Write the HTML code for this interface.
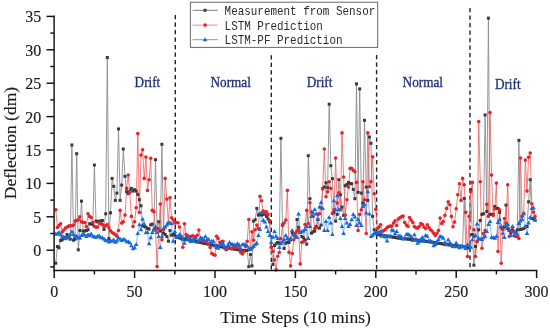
<!DOCTYPE html>
<html lang="en"><head><meta charset="utf-8"><title>Deflection chart</title>
<style>html,body{margin:0;padding:0;background:#fff}svg{display:block}.s{font-family:"Liberation Serif",serif;fill:#1a1a1a;stroke:#1a1a1a;stroke-width:0.15px}.m{font-family:"Liberation Mono",monospace;fill:#2b2b2b}</style></head><body>
<svg width="550" height="328" viewBox="0 0 550 328">
<rect width="550" height="328" fill="#fff"/>
<line x1="175.3" y1="15" x2="175.3" y2="270.5" stroke="#222" stroke-width="1.4" stroke-dasharray="4.3 3.2"/>
<line x1="271.3" y1="55.2" x2="271.3" y2="270.5" stroke="#222" stroke-width="1.4" stroke-dasharray="4.3 3.2"/>
<line x1="376.6" y1="55" x2="376.6" y2="270.5" stroke="#222" stroke-width="1.4" stroke-dasharray="4.3 3.2"/>
<line x1="470" y1="8" x2="470" y2="270.5" stroke="#222" stroke-width="1.4" stroke-dasharray="4.3 3.2"/>
<polyline fill="none" stroke="#8c8c8c" stroke-width="0.9" stroke-linejoin="round" points="55.8,263.2 57.4,246.5 59,247.8 60.6,240.5 62.2,239.8 63.8,238.5 65.5,237.8 67.1,234.5 68.7,236.5 70.3,239.2 71.9,145 73.5,240.2 75.1,239.2 76.7,153.7 78.3,249.8 79.9,230.5 81.5,201.1 83.1,231.1 84.8,231.1 86.4,230.5 88,229.8 89.6,223.8 91.2,223.8 92.8,224.5 94.4,165 96,221.1 97.6,221.8 99.2,221.1 100.8,221.1 102.4,220.5 104,229.5 105.7,213.8 107.3,57.5 108.9,238.5 110.5,212.8 112.1,178.4 113.7,186.4 115.3,200.4 116.9,193.1 118.5,128.9 120.1,200.4 121.7,185.1 123.3,149 125,176.4 126.6,191.7 128.2,193.7 129.8,191.1 131.4,188.4 133,191.1 134.6,189.7 136.2,191.1 137.8,194.4 139.4,199.8 141,205.8 142.6,225.8 144.2,226.5 145.9,227.1 147.5,228.5 149.1,229.1 150.7,224.8 152.3,224.1 153.9,229.8 155.5,159.7 157.1,228.5 158.7,221.8 160.3,231.1 161.9,144.3 163.5,233.2 165.2,234.5 166.8,236.5 168.4,241.2 170,230.5 171.6,235.2 173.2,234.5 174.8,235.2 176.4,236.8 178,237.4 179.6,237.9 181.2,238.5 182.8,239 184.4,239.3 186.1,239.5 187.7,239.7 189.3,239.9 190.9,240.2 192.5,240.6 194.1,240.9 195.7,241.3 197.3,241.7 198.9,242.1 200.5,242.5 202.1,242.8 203.7,243.2 205.4,243.5 207,243.8 208.6,244.2 210.2,244.5 211.8,244.8 213.4,245.2 215,245.5 216.6,245.8 218.2,246.2 219.8,246.5 221.4,246.8 223,247.1 224.6,247.4 226.3,247.7 227.9,247.9 229.5,248.2 231.1,248.5 232.7,248.8 234.3,249 235.9,249.3 237.5,249.6 239.1,249.8 240.7,250.1 242.3,250.3 243.9,250.5 245.6,250.5 247.2,250.5 248.8,266.6 250.4,254.5 252,265.9 253.6,221.1 255.2,219.8 256.8,208.4 258.4,215.1 260,213.8 261.6,215.1 263.2,214.4 264.8,213.8 266.5,216.4 268.1,219.1 269.7,221.8 271.3,247.2 272.9,264.5 274.5,245.5 276.1,243.8 277.7,242.5 279.3,243.2 280.9,138.3 282.5,224.8 284.1,248.5 285.8,243.2 287.4,242.5 289,242.5 290.6,239.8 292.2,232.5 293.8,235.2 295.4,236.5 297,219.5 298.6,227.5 300.2,232.5 301.8,236.5 303.4,237.8 305,239.8 306.7,244.2 308.3,155.7 309.9,198.7 311.5,233.2 313.1,231.8 314.7,231.1 316.3,226.5 317.9,219.5 319.5,228.1 321.1,225.1 322.7,188.7 324.3,187.1 326,182.7 327.6,187.7 329.2,104.2 330.8,165.7 332.4,178.7 334,212.4 335.6,221.1 337.2,214.4 338.8,179.7 340.4,194.7 342,207.1 343.6,215.4 345.2,185.7 346.9,184.4 348.5,182.4 350.1,183.7 351.7,183.7 353.3,189.4 354.9,198.7 356.5,83.9 358.1,192.4 359.7,88.9 361.3,193.1 362.9,203.1 364.5,120.3 366.2,187.1 367.8,200.4 369.4,137 371,143.3 372.6,216.4 374.2,229.8 375.8,233.8 377.4,234.5 379,234.8 380.6,235 382.2,235.3 383.8,235.6 385.4,235.9 387.1,236.2 388.7,236.4 390.3,236.7 391.9,237 393.5,237.3 395.1,237.5 396.7,237.8 398.3,238 399.9,238.2 401.5,238.4 403.1,238.6 404.7,238.7 406.4,238.9 408,239.1 409.6,239.3 411.2,239.5 412.8,239.7 414.4,239.9 416,240 417.6,240.2 419.2,240.4 420.8,240.6 422.4,240.8 424,241 425.6,241.2 427.3,241.5 428.9,241.7 430.5,242 432.1,242.2 433.7,242.5 435.3,242.7 436.9,243 438.5,243.2 440.1,243.5 441.7,243.7 443.3,244 444.9,244.2 446.6,244.4 448.2,244.7 449.8,244.9 451.4,245.1 453,245.4 454.6,245.6 456.2,245.8 457.8,246 459.4,246.2 461,246.3 462.6,246.5 464.2,198.4 465.8,247 467.5,247.3 469.1,247.8 470.7,189.7 472.3,234.5 473.9,265.2 475.5,246.5 477.1,241.5 478.7,229.8 480.3,220.5 481.9,214.4 483.5,213.8 485.1,114.9 486.8,211.4 488.4,18.1 490,214.4 491.6,214.4 493.2,214.4 494.8,206.4 496.4,208.4 498,208.4 499.6,212.4 501.2,227.5 502.8,228.5 504.4,227.1 506,205.1 507.7,228.8 509.3,230.5 510.9,232.5 512.5,230.5 514.1,231.8 515.7,232.5 517.3,229.8 518.9,140.3 520.5,229.5 522.1,229.1 523.7,228.5 525.3,227.1 527,226.5 528.6,201.8 530.2,179.7 531.8,218.5 533.4,218.8 535,220.1"/>
<polyline fill="none" stroke="#f05c5c" stroke-width="0.8" stroke-linejoin="round" points="55.8,209.8 57.4,227.5 59,225.5 60.6,223.8 62.2,232.1 63.8,230.1 65.5,228.1 67.1,227.1 68.7,226.1 70.3,225.8 71.9,225.8 73.5,225.1 75.1,221.1 76.7,220.5 78.3,219.8 79.9,216.8 81.5,221.8 83.1,222.5 84.8,222.5 86.4,226.5 88,213.8 89.6,216.4 91.2,217.5 92.8,222.5 94.4,226.5 96,227.1 97.6,227.1 99.2,223.1 100.8,223.8 102.4,224.5 104,226.5 105.7,225.8 107.3,224.5 108.9,227.8 110.5,230.8 112.1,232.5 113.7,233.5 115.3,234.5 116.9,236.2 118.5,230.5 120.1,210.4 121.7,223.1 123.3,221.8 125,215.1 126.6,188.4 128.2,175 129.8,192.4 131.4,216.4 133,226.5 134.6,221.8 136.2,207.8 137.8,133.6 139.4,212.4 141,155 142.6,149.7 144.2,178.4 145.9,157 147.5,190.4 149.1,179.7 150.7,158.3 152.3,210.4 153.9,211.8 155.5,229.8 157.1,266.6 158.7,229.1 160.3,204.1 161.9,239.8 163.5,229.8 165.2,178.4 166.8,199.1 168.4,223.1 170,197.7 171.6,217.8 173.2,220.1 174.8,223.1 176.4,222.5 178,222.8 179.6,227.1 181.2,236.5 182.8,247.2 184.4,223.8 186.1,234.5 187.7,235.8 189.3,236.5 190.9,236.5 192.5,235.8 194.1,236.5 195.7,237.2 197.3,235.2 198.9,230.1 200.5,239.2 202.1,240.5 203.7,241.2 205.4,241.2 207,242.5 208.6,244.5 210.2,247.5 211.8,253.5 213.4,254.5 215,255.2 216.6,236.2 218.2,238.5 219.8,242.5 221.4,241.8 223,241.2 224.6,248.5 226.3,249.8 227.9,248.5 229.5,247.8 231.1,248.8 232.7,247.8 234.3,247.5 235.9,247.8 237.5,244.5 239.1,247.8 240.7,252.2 242.3,253.9 243.9,251.9 245.6,246.5 247.2,241.2 248.8,219.5 250.4,249.8 252,231.8 253.6,240.2 255.2,229.8 256.8,225.1 258.4,228.5 260,196.4 261.6,200.8 263.2,211.1 264.8,212.4 266.5,211.8 268.1,214.4 269.7,220.5 271.3,247.5 272.9,251.2 274.5,259.9 276.1,269.9 277.7,256.2 279.3,252.5 280.9,238.5 282.5,225.5 284.1,223.1 285.8,220.1 287.4,190.4 289,252.2 290.6,265.9 292.2,253.5 293.8,239.8 295.4,233.2 297,231.1 298.6,229.5 300.2,263.9 301.8,242.2 303.4,241.8 305,224.5 306.7,210.4 308.3,223.5 309.9,202.8 311.5,212.1 313.1,216.4 314.7,228.5 316.3,227.8 317.9,214.4 319.5,213.8 321.1,207.8 322.7,188.7 324.3,149 326,196.7 327.6,191.7 329.2,181.7 330.8,188.4 332.4,213.4 334,209.8 335.6,158 337.2,203.1 338.8,192.7 340.4,209.8 342,132.9 343.6,177 345.2,215.1 346.9,199.8 348.5,187.1 350.1,168.4 351.7,168.4 353.3,170.4 354.9,171.7 356.5,182.4 358.1,230.5 359.7,214.4 361.3,209.8 362.9,181.7 364.5,199.8 366.2,233.5 367.8,132.9 369.4,186.7 371,181.7 372.6,156.7 374.2,193.7 375.8,209.4 377.4,228.5 379,227.1 380.6,224.8 382.2,231.5 383.8,230.5 385.4,229.5 387.1,227.5 388.7,226.5 390.3,226.1 391.9,226.1 393.5,223.1 395.1,220.8 396.7,225.5 398.3,219.1 399.9,217.8 401.5,216.8 403.1,216.1 404.7,222.5 406.4,225.1 408,226.5 409.6,217.5 411.2,220.1 412.8,222.5 414.4,226.5 416,227.8 417.6,228.1 419.2,226.5 420.8,223.5 422.4,224.5 424,227.1 425.6,228.5 427.3,224.8 428.9,227.5 430.5,229.8 432.1,231.1 433.7,233.2 435.3,235.5 436.9,233.2 438.5,230.5 440.1,218.1 441.7,223.5 443.3,221.5 444.9,215.4 446.6,208.4 448.2,201.8 449.8,204.8 451.4,216.4 453,226.8 454.6,222.1 456.2,208.8 457.8,194.7 459.4,183.7 461,200.4 462.6,178.4 464.2,184.7 465.8,212.4 467.5,256.5 469.1,216.4 470.7,191.7 472.3,182.4 473.9,229.8 475.5,256.5 477.1,241.5 478.7,121.6 480.3,181.7 481.9,248.2 483.5,233.5 485.1,230.5 486.8,204.4 488.4,216.4 490,112.6 491.6,175 493.2,215.4 494.8,208.8 496.4,183.1 498,251.5 499.6,209.8 501.2,263.2 502.8,229.8 504.4,218.5 506,223.1 507.7,184.7 509.3,236.5 510.9,231.1 512.5,227.5 514.1,235.8 515.7,236.5 517.3,236.5 518.9,238.5 520.5,158 522.1,216.4 523.7,213.4 525.3,160 527,191.1 528.6,157.3 530.2,153 531.8,203.8 533.4,212.1 535,216.4"/>
<polyline fill="none" stroke="#74a9ee" stroke-width="0.75" stroke-linejoin="round" points="55.8,233.9 57.4,233.9 59,232.5 60.6,234.7 62.2,236.7 63.8,237.1 65.5,238.8 67.1,238.1 68.7,237.5 70.3,234.6 71.9,231.7 73.5,234.4 75.1,236.7 76.7,236.1 78.3,238 79.9,238.1 81.5,235.5 83.1,234.2 84.8,235 86.4,236.4 88,234.8 89.6,235.5 91.2,234.1 92.8,236.3 94.4,236.9 96,237.3 97.6,236.2 99.2,236.1 100.8,237.8 102.4,237.7 104,238.9 105.7,240.4 107.3,240.7 108.9,242.1 110.5,241.1 112.1,241.1 113.7,240.1 115.3,242.3 116.9,240.9 118.5,238 120.1,239.3 121.7,240.6 123.3,239.2 125,239.7 126.6,241.7 128.2,241.7 129.8,242.8 131.4,245.8 133,248.8 134.6,247.8 136.2,244.5 137.8,233.5 139.4,224.8 141,229.8 142.6,219.3 144.2,224.1 145.9,232.7 147.5,232.5 149.1,243.8 150.7,237.8 152.3,232.5 153.9,230.1 155.5,226.8 157.1,232.5 158.7,236.5 160.3,247.5 161.9,236.5 163.5,228.5 165.2,227.1 166.8,225.1 168.4,222.8 170,223.1 171.6,223.8 173.2,241.2 174.8,231.5 176.4,237.4 178,236.3 179.6,234.4 181.2,236.2 182.8,239.3 184.4,243.3 186.1,236.8 187.7,239.7 189.3,238 190.9,241.4 192.5,240.2 194.1,239.3 195.7,238.2 197.3,242.3 198.9,240.7 200.5,237.9 202.1,238.2 203.7,239.8 205.4,236.6 207,239.4 208.6,239.5 210.2,243.1 211.8,241.2 213.4,241.2 215,246 216.6,247.6 218.2,248.3 219.8,245 221.4,242.9 223,243.5 224.6,246.9 226.3,248.6 227.9,244.9 229.5,242.4 231.1,244.2 232.7,244.6 234.3,245 235.9,245.4 237.5,243.7 239.1,245.1 240.7,249.1 242.3,244.8 243.9,244.6 245.6,244.9 247.2,245.9 248.8,248.2 250.4,249.2 252,247.8 253.6,246.5 255.2,244.5 256.8,243.2 258.4,235.5 260,229.5 261.6,212.8 263.2,220.5 264.8,222.1 266.5,227.1 268.1,231.5 269.7,235.5 271.3,242.5 272.9,237.2 274.5,231.5 276.1,236.5 277.7,238.5 279.3,247.5 280.9,243.5 282.5,241.8 284.1,239.8 285.8,235.5 287.4,238.5 289,239.8 290.6,238.5 292.2,230.5 293.8,234.5 295.4,236.5 297,237.5 298.6,214.1 300.2,232.5 301.8,231.8 303.4,231.1 305,229.5 306.7,226.5 308.3,238.5 309.9,226.5 311.5,216.4 313.1,213.1 314.7,209.4 316.3,214.1 317.9,219.1 319.5,207.1 321.1,202.4 322.7,208.4 324.3,230.5 326,221.5 327.6,230.5 329.2,217.5 330.8,223.1 332.4,234.5 334,200.8 335.6,209.8 337.2,195.7 338.8,209.8 340.4,218.5 342,226.5 343.6,233.5 345.2,218.5 346.9,223.1 348.5,226.5 350.1,224.5 351.7,219.8 353.3,214.4 354.9,217.1 356.5,225.5 358.1,219.5 359.7,223.1 361.3,225.5 362.9,206.4 364.5,204.8 366.2,213.1 367.8,191.7 369.4,214.1 371,236.5 372.6,235.2 374.2,233.5 375.8,232.5 377.4,233.3 379,232.1 380.6,231.7 382.2,236.3 383.8,235.8 385.4,236.9 387.1,240.9 388.7,236.3 390.3,236.2 391.9,229.9 393.5,230.8 395.1,233.9 396.7,231.6 398.3,236.6 399.9,235.9 401.5,236.9 403.1,239.1 404.7,238.3 406.4,234.4 408,234.2 409.6,235.3 411.2,236.8 412.8,240.4 414.4,234.8 416,239.5 417.6,243.3 419.2,241.7 420.8,239.6 422.4,237.5 424,240.9 425.6,235.4 427.3,236.3 428.9,240.8 430.5,240.9 432.1,242.1 433.7,245.7 435.3,244.6 436.9,241.7 438.5,239.6 440.1,236.5 441.7,236.9 443.3,238.2 444.9,242.4 446.6,244.8 448.2,239.8 449.8,242.7 451.4,244.8 453,246.5 454.6,246.8 456.2,243.1 457.8,246.5 459.4,247.7 461,246.1 462.6,246.9 464.2,246.8 465.8,248.5 467.5,245 469.1,245.8 470.7,247.2 472.3,239.8 473.9,236.5 475.5,235.5 477.1,224.1 478.7,238.5 480.3,239.2 481.9,239.5 483.5,237.8 485.1,236.2 486.8,231.5 488.4,224.5 490,221.5 491.6,237.5 493.2,237.8 494.8,238.2 496.4,236.5 498,222.5 499.6,219.5 501.2,226.5 502.8,233.2 504.4,237.5 506,225.5 507.7,224.5 509.3,229.8 510.9,235.5 512.5,226.5 514.1,231.5 515.7,233.2 517.3,234.5 518.9,223.5 520.5,221.1 522.1,219.5 523.7,213.8 525.3,226.5 527,233.5 528.6,223.1 530.2,217.5 531.8,208.4 533.4,207.8 535,220.1"/>
<g fill="#3a3a3a"><rect x="54.3" y="261.7" width="3" height="3"/><rect x="55.9" y="245" width="3" height="3"/><rect x="57.5" y="246.3" width="3" height="3"/><rect x="59.1" y="239" width="3" height="3"/><rect x="60.7" y="238.3" width="3" height="3"/><rect x="62.3" y="237" width="3" height="3"/><rect x="64" y="236.3" width="3" height="3"/><rect x="65.6" y="233" width="3" height="3"/><rect x="67.2" y="235" width="3" height="3"/><rect x="68.8" y="237.7" width="3" height="3"/><rect x="70.4" y="143.5" width="3" height="3"/><rect x="72" y="238.7" width="3" height="3"/><rect x="73.6" y="237.7" width="3" height="3"/><rect x="75.2" y="152.2" width="3" height="3"/><rect x="76.8" y="248.3" width="3" height="3"/><rect x="78.4" y="229" width="3" height="3"/><rect x="80" y="199.6" width="3" height="3"/><rect x="81.6" y="229.6" width="3" height="3"/><rect x="83.3" y="229.6" width="3" height="3"/><rect x="84.9" y="229" width="3" height="3"/><rect x="86.5" y="228.3" width="3" height="3"/><rect x="88.1" y="222.3" width="3" height="3"/><rect x="89.7" y="222.3" width="3" height="3"/><rect x="91.3" y="223" width="3" height="3"/><rect x="92.9" y="163.5" width="3" height="3"/><rect x="94.5" y="219.6" width="3" height="3"/><rect x="96.1" y="220.3" width="3" height="3"/><rect x="97.7" y="219.6" width="3" height="3"/><rect x="99.3" y="219.6" width="3" height="3"/><rect x="100.9" y="219" width="3" height="3"/><rect x="102.5" y="228" width="3" height="3"/><rect x="104.2" y="212.3" width="3" height="3"/><rect x="105.8" y="56" width="3" height="3"/><rect x="107.4" y="237" width="3" height="3"/><rect x="109" y="211.3" width="3" height="3"/><rect x="110.6" y="176.9" width="3" height="3"/><rect x="112.2" y="184.9" width="3" height="3"/><rect x="113.8" y="198.9" width="3" height="3"/><rect x="115.4" y="191.6" width="3" height="3"/><rect x="117" y="127.4" width="3" height="3"/><rect x="118.6" y="198.9" width="3" height="3"/><rect x="120.2" y="183.6" width="3" height="3"/><rect x="121.8" y="147.5" width="3" height="3"/><rect x="123.5" y="174.9" width="3" height="3"/><rect x="125.1" y="190.2" width="3" height="3"/><rect x="126.7" y="192.2" width="3" height="3"/><rect x="128.3" y="189.6" width="3" height="3"/><rect x="129.9" y="186.9" width="3" height="3"/><rect x="131.5" y="189.6" width="3" height="3"/><rect x="133.1" y="188.2" width="3" height="3"/><rect x="134.7" y="189.6" width="3" height="3"/><rect x="136.3" y="192.9" width="3" height="3"/><rect x="137.9" y="198.2" width="3" height="3"/><rect x="139.5" y="204.3" width="3" height="3"/><rect x="141.1" y="224.3" width="3" height="3"/><rect x="142.7" y="225" width="3" height="3"/><rect x="144.4" y="225.6" width="3" height="3"/><rect x="146" y="227" width="3" height="3"/><rect x="147.6" y="227.6" width="3" height="3"/><rect x="149.2" y="223.3" width="3" height="3"/><rect x="150.8" y="222.6" width="3" height="3"/><rect x="152.4" y="228.3" width="3" height="3"/><rect x="154" y="158.2" width="3" height="3"/><rect x="155.6" y="227" width="3" height="3"/><rect x="157.2" y="220.3" width="3" height="3"/><rect x="158.8" y="229.6" width="3" height="3"/><rect x="160.4" y="142.8" width="3" height="3"/><rect x="162" y="231.7" width="3" height="3"/><rect x="163.7" y="233" width="3" height="3"/><rect x="165.3" y="235" width="3" height="3"/><rect x="166.9" y="239.7" width="3" height="3"/><rect x="168.5" y="229" width="3" height="3"/><rect x="170.1" y="233.7" width="3" height="3"/><rect x="171.7" y="233" width="3" height="3"/><rect x="173.3" y="233.7" width="3" height="3"/><rect x="174.9" y="235.3" width="3" height="3"/><rect x="176.5" y="235.9" width="3" height="3"/><rect x="178.1" y="236.4" width="3" height="3"/><rect x="179.7" y="237" width="3" height="3"/><rect x="181.3" y="237.5" width="3" height="3"/><rect x="182.9" y="237.8" width="3" height="3"/><rect x="184.6" y="238" width="3" height="3"/><rect x="186.2" y="238.2" width="3" height="3"/><rect x="187.8" y="238.4" width="3" height="3"/><rect x="189.4" y="238.7" width="3" height="3"/><rect x="191" y="239.1" width="3" height="3"/><rect x="192.6" y="239.4" width="3" height="3"/><rect x="194.2" y="239.8" width="3" height="3"/><rect x="195.8" y="240.2" width="3" height="3"/><rect x="197.4" y="240.6" width="3" height="3"/><rect x="199" y="241" width="3" height="3"/><rect x="200.6" y="241.3" width="3" height="3"/><rect x="202.2" y="241.7" width="3" height="3"/><rect x="203.9" y="242" width="3" height="3"/><rect x="205.5" y="242.3" width="3" height="3"/><rect x="207.1" y="242.7" width="3" height="3"/><rect x="208.7" y="243" width="3" height="3"/><rect x="210.3" y="243.3" width="3" height="3"/><rect x="211.9" y="243.7" width="3" height="3"/><rect x="213.5" y="244" width="3" height="3"/><rect x="215.1" y="244.3" width="3" height="3"/><rect x="216.7" y="244.7" width="3" height="3"/><rect x="218.3" y="245" width="3" height="3"/><rect x="219.9" y="245.3" width="3" height="3"/><rect x="221.5" y="245.6" width="3" height="3"/><rect x="223.1" y="245.9" width="3" height="3"/><rect x="224.8" y="246.2" width="3" height="3"/><rect x="226.4" y="246.4" width="3" height="3"/><rect x="228" y="246.7" width="3" height="3"/><rect x="229.6" y="247" width="3" height="3"/><rect x="231.2" y="247.3" width="3" height="3"/><rect x="232.8" y="247.5" width="3" height="3"/><rect x="234.4" y="247.8" width="3" height="3"/><rect x="236" y="248.1" width="3" height="3"/><rect x="237.6" y="248.3" width="3" height="3"/><rect x="239.2" y="248.6" width="3" height="3"/><rect x="240.8" y="248.8" width="3" height="3"/><rect x="242.4" y="249" width="3" height="3"/><rect x="244.1" y="249" width="3" height="3"/><rect x="245.7" y="249" width="3" height="3"/><rect x="247.3" y="265.1" width="3" height="3"/><rect x="248.9" y="253" width="3" height="3"/><rect x="250.5" y="264.4" width="3" height="3"/><rect x="252.1" y="219.6" width="3" height="3"/><rect x="253.7" y="218.3" width="3" height="3"/><rect x="255.3" y="206.9" width="3" height="3"/><rect x="256.9" y="213.6" width="3" height="3"/><rect x="258.5" y="212.3" width="3" height="3"/><rect x="260.1" y="213.6" width="3" height="3"/><rect x="261.7" y="212.9" width="3" height="3"/><rect x="263.3" y="212.3" width="3" height="3"/><rect x="265" y="214.9" width="3" height="3"/><rect x="266.6" y="217.6" width="3" height="3"/><rect x="268.2" y="220.3" width="3" height="3"/><rect x="269.8" y="245.7" width="3" height="3"/><rect x="271.4" y="263" width="3" height="3"/><rect x="273" y="244" width="3" height="3"/><rect x="274.6" y="242.3" width="3" height="3"/><rect x="276.2" y="241" width="3" height="3"/><rect x="277.8" y="241.7" width="3" height="3"/><rect x="279.4" y="136.8" width="3" height="3"/><rect x="281" y="223.3" width="3" height="3"/><rect x="282.6" y="247" width="3" height="3"/><rect x="284.3" y="241.7" width="3" height="3"/><rect x="285.9" y="241" width="3" height="3"/><rect x="287.5" y="241" width="3" height="3"/><rect x="289.1" y="238.3" width="3" height="3"/><rect x="290.7" y="231" width="3" height="3"/><rect x="292.3" y="233.7" width="3" height="3"/><rect x="293.9" y="235" width="3" height="3"/><rect x="295.5" y="218" width="3" height="3"/><rect x="297.1" y="226" width="3" height="3"/><rect x="298.7" y="231" width="3" height="3"/><rect x="300.3" y="235" width="3" height="3"/><rect x="301.9" y="236.3" width="3" height="3"/><rect x="303.5" y="238.3" width="3" height="3"/><rect x="305.2" y="242.7" width="3" height="3"/><rect x="306.8" y="154.2" width="3" height="3"/><rect x="308.4" y="197.2" width="3" height="3"/><rect x="310" y="231.7" width="3" height="3"/><rect x="311.6" y="230.3" width="3" height="3"/><rect x="313.2" y="229.6" width="3" height="3"/><rect x="314.8" y="225" width="3" height="3"/><rect x="316.4" y="218" width="3" height="3"/><rect x="318" y="226.6" width="3" height="3"/><rect x="319.6" y="223.6" width="3" height="3"/><rect x="321.2" y="187.2" width="3" height="3"/><rect x="322.8" y="185.6" width="3" height="3"/><rect x="324.5" y="181.2" width="3" height="3"/><rect x="326.1" y="186.2" width="3" height="3"/><rect x="327.7" y="102.7" width="3" height="3"/><rect x="329.3" y="164.2" width="3" height="3"/><rect x="330.9" y="177.2" width="3" height="3"/><rect x="332.5" y="210.9" width="3" height="3"/><rect x="334.1" y="219.6" width="3" height="3"/><rect x="335.7" y="212.9" width="3" height="3"/><rect x="337.3" y="178.2" width="3" height="3"/><rect x="338.9" y="193.2" width="3" height="3"/><rect x="340.5" y="205.6" width="3" height="3"/><rect x="342.1" y="213.9" width="3" height="3"/><rect x="343.7" y="184.2" width="3" height="3"/><rect x="345.4" y="182.9" width="3" height="3"/><rect x="347" y="180.9" width="3" height="3"/><rect x="348.6" y="182.2" width="3" height="3"/><rect x="350.2" y="182.2" width="3" height="3"/><rect x="351.8" y="187.9" width="3" height="3"/><rect x="353.4" y="197.2" width="3" height="3"/><rect x="355" y="82.4" width="3" height="3"/><rect x="356.6" y="190.9" width="3" height="3"/><rect x="358.2" y="87.4" width="3" height="3"/><rect x="359.8" y="191.6" width="3" height="3"/><rect x="361.4" y="201.6" width="3" height="3"/><rect x="363" y="118.8" width="3" height="3"/><rect x="364.7" y="185.6" width="3" height="3"/><rect x="366.3" y="198.9" width="3" height="3"/><rect x="367.9" y="135.5" width="3" height="3"/><rect x="369.5" y="141.8" width="3" height="3"/><rect x="371.1" y="214.9" width="3" height="3"/><rect x="372.7" y="228.3" width="3" height="3"/><rect x="374.3" y="232.3" width="3" height="3"/><rect x="375.9" y="233" width="3" height="3"/><rect x="377.5" y="233.3" width="3" height="3"/><rect x="379.1" y="233.5" width="3" height="3"/><rect x="380.7" y="233.8" width="3" height="3"/><rect x="382.3" y="234.1" width="3" height="3"/><rect x="383.9" y="234.4" width="3" height="3"/><rect x="385.6" y="234.7" width="3" height="3"/><rect x="387.2" y="234.9" width="3" height="3"/><rect x="388.8" y="235.2" width="3" height="3"/><rect x="390.4" y="235.5" width="3" height="3"/><rect x="392" y="235.8" width="3" height="3"/><rect x="393.6" y="236" width="3" height="3"/><rect x="395.2" y="236.3" width="3" height="3"/><rect x="396.8" y="236.5" width="3" height="3"/><rect x="398.4" y="236.7" width="3" height="3"/><rect x="400" y="236.9" width="3" height="3"/><rect x="401.6" y="237.1" width="3" height="3"/><rect x="403.2" y="237.2" width="3" height="3"/><rect x="404.9" y="237.4" width="3" height="3"/><rect x="406.5" y="237.6" width="3" height="3"/><rect x="408.1" y="237.8" width="3" height="3"/><rect x="409.7" y="238" width="3" height="3"/><rect x="411.3" y="238.2" width="3" height="3"/><rect x="412.9" y="238.4" width="3" height="3"/><rect x="414.5" y="238.5" width="3" height="3"/><rect x="416.1" y="238.7" width="3" height="3"/><rect x="417.7" y="238.9" width="3" height="3"/><rect x="419.3" y="239.1" width="3" height="3"/><rect x="420.9" y="239.3" width="3" height="3"/><rect x="422.5" y="239.5" width="3" height="3"/><rect x="424.1" y="239.7" width="3" height="3"/><rect x="425.8" y="240" width="3" height="3"/><rect x="427.4" y="240.2" width="3" height="3"/><rect x="429" y="240.5" width="3" height="3"/><rect x="430.6" y="240.7" width="3" height="3"/><rect x="432.2" y="241" width="3" height="3"/><rect x="433.8" y="241.2" width="3" height="3"/><rect x="435.4" y="241.5" width="3" height="3"/><rect x="437" y="241.7" width="3" height="3"/><rect x="438.6" y="242" width="3" height="3"/><rect x="440.2" y="242.2" width="3" height="3"/><rect x="441.8" y="242.5" width="3" height="3"/><rect x="443.4" y="242.7" width="3" height="3"/><rect x="445.1" y="242.9" width="3" height="3"/><rect x="446.7" y="243.2" width="3" height="3"/><rect x="448.3" y="243.4" width="3" height="3"/><rect x="449.9" y="243.6" width="3" height="3"/><rect x="451.5" y="243.9" width="3" height="3"/><rect x="453.1" y="244.1" width="3" height="3"/><rect x="454.7" y="244.3" width="3" height="3"/><rect x="456.3" y="244.5" width="3" height="3"/><rect x="457.9" y="244.7" width="3" height="3"/><rect x="459.5" y="244.8" width="3" height="3"/><rect x="461.1" y="245" width="3" height="3"/><rect x="462.7" y="196.9" width="3" height="3"/><rect x="464.3" y="245.5" width="3" height="3"/><rect x="466" y="245.8" width="3" height="3"/><rect x="467.6" y="246.3" width="3" height="3"/><rect x="469.2" y="188.2" width="3" height="3"/><rect x="470.8" y="233" width="3" height="3"/><rect x="472.4" y="263.7" width="3" height="3"/><rect x="474" y="245" width="3" height="3"/><rect x="475.6" y="240" width="3" height="3"/><rect x="477.2" y="228.3" width="3" height="3"/><rect x="478.8" y="219" width="3" height="3"/><rect x="480.4" y="212.9" width="3" height="3"/><rect x="482" y="212.3" width="3" height="3"/><rect x="483.6" y="113.4" width="3" height="3"/><rect x="485.3" y="209.9" width="3" height="3"/><rect x="486.9" y="16.6" width="3" height="3"/><rect x="488.5" y="212.9" width="3" height="3"/><rect x="490.1" y="212.9" width="3" height="3"/><rect x="491.7" y="212.9" width="3" height="3"/><rect x="493.3" y="204.9" width="3" height="3"/><rect x="494.9" y="206.9" width="3" height="3"/><rect x="496.5" y="206.9" width="3" height="3"/><rect x="498.1" y="210.9" width="3" height="3"/><rect x="499.7" y="226" width="3" height="3"/><rect x="501.3" y="227" width="3" height="3"/><rect x="502.9" y="225.6" width="3" height="3"/><rect x="504.5" y="203.6" width="3" height="3"/><rect x="506.2" y="227.3" width="3" height="3"/><rect x="507.8" y="229" width="3" height="3"/><rect x="509.4" y="231" width="3" height="3"/><rect x="511" y="229" width="3" height="3"/><rect x="512.6" y="230.3" width="3" height="3"/><rect x="514.2" y="231" width="3" height="3"/><rect x="515.8" y="228.3" width="3" height="3"/><rect x="517.4" y="138.8" width="3" height="3"/><rect x="519" y="228" width="3" height="3"/><rect x="520.6" y="227.6" width="3" height="3"/><rect x="522.2" y="227" width="3" height="3"/><rect x="523.8" y="225.6" width="3" height="3"/><rect x="525.5" y="225" width="3" height="3"/><rect x="527.1" y="200.3" width="3" height="3"/><rect x="528.7" y="178.2" width="3" height="3"/><rect x="530.3" y="217" width="3" height="3"/><rect x="531.9" y="217.3" width="3" height="3"/><rect x="533.5" y="218.6" width="3" height="3"/></g>
<g fill="#ee1f27"><circle cx="55.8" cy="209.8" r="1.8"/><circle cx="57.4" cy="227.5" r="1.8"/><circle cx="59" cy="225.5" r="1.8"/><circle cx="60.6" cy="223.8" r="1.8"/><circle cx="62.2" cy="232.1" r="1.8"/><circle cx="63.8" cy="230.1" r="1.8"/><circle cx="65.5" cy="228.1" r="1.8"/><circle cx="67.1" cy="227.1" r="1.8"/><circle cx="68.7" cy="226.1" r="1.8"/><circle cx="70.3" cy="225.8" r="1.8"/><circle cx="71.9" cy="225.8" r="1.8"/><circle cx="73.5" cy="225.1" r="1.8"/><circle cx="75.1" cy="221.1" r="1.8"/><circle cx="76.7" cy="220.5" r="1.8"/><circle cx="78.3" cy="219.8" r="1.8"/><circle cx="79.9" cy="216.8" r="1.8"/><circle cx="81.5" cy="221.8" r="1.8"/><circle cx="83.1" cy="222.5" r="1.8"/><circle cx="84.8" cy="222.5" r="1.8"/><circle cx="86.4" cy="226.5" r="1.8"/><circle cx="88" cy="213.8" r="1.8"/><circle cx="89.6" cy="216.4" r="1.8"/><circle cx="91.2" cy="217.5" r="1.8"/><circle cx="92.8" cy="222.5" r="1.8"/><circle cx="94.4" cy="226.5" r="1.8"/><circle cx="96" cy="227.1" r="1.8"/><circle cx="97.6" cy="227.1" r="1.8"/><circle cx="99.2" cy="223.1" r="1.8"/><circle cx="100.8" cy="223.8" r="1.8"/><circle cx="102.4" cy="224.5" r="1.8"/><circle cx="104" cy="226.5" r="1.8"/><circle cx="105.7" cy="225.8" r="1.8"/><circle cx="107.3" cy="224.5" r="1.8"/><circle cx="108.9" cy="227.8" r="1.8"/><circle cx="110.5" cy="230.8" r="1.8"/><circle cx="112.1" cy="232.5" r="1.8"/><circle cx="113.7" cy="233.5" r="1.8"/><circle cx="115.3" cy="234.5" r="1.8"/><circle cx="116.9" cy="236.2" r="1.8"/><circle cx="118.5" cy="230.5" r="1.8"/><circle cx="120.1" cy="210.4" r="1.8"/><circle cx="121.7" cy="223.1" r="1.8"/><circle cx="123.3" cy="221.8" r="1.8"/><circle cx="125" cy="215.1" r="1.8"/><circle cx="126.6" cy="188.4" r="1.8"/><circle cx="128.2" cy="175" r="1.8"/><circle cx="129.8" cy="192.4" r="1.8"/><circle cx="131.4" cy="216.4" r="1.8"/><circle cx="133" cy="226.5" r="1.8"/><circle cx="134.6" cy="221.8" r="1.8"/><circle cx="136.2" cy="207.8" r="1.8"/><circle cx="137.8" cy="133.6" r="1.8"/><circle cx="139.4" cy="212.4" r="1.8"/><circle cx="141" cy="155" r="1.8"/><circle cx="142.6" cy="149.7" r="1.8"/><circle cx="144.2" cy="178.4" r="1.8"/><circle cx="145.9" cy="157" r="1.8"/><circle cx="147.5" cy="190.4" r="1.8"/><circle cx="149.1" cy="179.7" r="1.8"/><circle cx="150.7" cy="158.3" r="1.8"/><circle cx="152.3" cy="210.4" r="1.8"/><circle cx="153.9" cy="211.8" r="1.8"/><circle cx="155.5" cy="229.8" r="1.8"/><circle cx="157.1" cy="266.6" r="1.8"/><circle cx="158.7" cy="229.1" r="1.8"/><circle cx="160.3" cy="204.1" r="1.8"/><circle cx="161.9" cy="239.8" r="1.8"/><circle cx="163.5" cy="229.8" r="1.8"/><circle cx="165.2" cy="178.4" r="1.8"/><circle cx="166.8" cy="199.1" r="1.8"/><circle cx="168.4" cy="223.1" r="1.8"/><circle cx="170" cy="197.7" r="1.8"/><circle cx="171.6" cy="217.8" r="1.8"/><circle cx="173.2" cy="220.1" r="1.8"/><circle cx="174.8" cy="223.1" r="1.8"/><circle cx="176.4" cy="222.5" r="1.8"/><circle cx="178" cy="222.8" r="1.8"/><circle cx="179.6" cy="227.1" r="1.8"/><circle cx="181.2" cy="236.5" r="1.8"/><circle cx="182.8" cy="247.2" r="1.8"/><circle cx="184.4" cy="223.8" r="1.8"/><circle cx="186.1" cy="234.5" r="1.8"/><circle cx="187.7" cy="235.8" r="1.8"/><circle cx="189.3" cy="236.5" r="1.8"/><circle cx="190.9" cy="236.5" r="1.8"/><circle cx="192.5" cy="235.8" r="1.8"/><circle cx="194.1" cy="236.5" r="1.8"/><circle cx="195.7" cy="237.2" r="1.8"/><circle cx="197.3" cy="235.2" r="1.8"/><circle cx="198.9" cy="230.1" r="1.8"/><circle cx="200.5" cy="239.2" r="1.8"/><circle cx="202.1" cy="240.5" r="1.8"/><circle cx="203.7" cy="241.2" r="1.8"/><circle cx="205.4" cy="241.2" r="1.8"/><circle cx="207" cy="242.5" r="1.8"/><circle cx="208.6" cy="244.5" r="1.8"/><circle cx="210.2" cy="247.5" r="1.8"/><circle cx="211.8" cy="253.5" r="1.8"/><circle cx="213.4" cy="254.5" r="1.8"/><circle cx="215" cy="255.2" r="1.8"/><circle cx="216.6" cy="236.2" r="1.8"/><circle cx="218.2" cy="238.5" r="1.8"/><circle cx="219.8" cy="242.5" r="1.8"/><circle cx="221.4" cy="241.8" r="1.8"/><circle cx="223" cy="241.2" r="1.8"/><circle cx="224.6" cy="248.5" r="1.8"/><circle cx="226.3" cy="249.8" r="1.8"/><circle cx="227.9" cy="248.5" r="1.8"/><circle cx="229.5" cy="247.8" r="1.8"/><circle cx="231.1" cy="248.8" r="1.8"/><circle cx="232.7" cy="247.8" r="1.8"/><circle cx="234.3" cy="247.5" r="1.8"/><circle cx="235.9" cy="247.8" r="1.8"/><circle cx="237.5" cy="244.5" r="1.8"/><circle cx="239.1" cy="247.8" r="1.8"/><circle cx="240.7" cy="252.2" r="1.8"/><circle cx="242.3" cy="253.9" r="1.8"/><circle cx="243.9" cy="251.9" r="1.8"/><circle cx="245.6" cy="246.5" r="1.8"/><circle cx="247.2" cy="241.2" r="1.8"/><circle cx="248.8" cy="219.5" r="1.8"/><circle cx="250.4" cy="249.8" r="1.8"/><circle cx="252" cy="231.8" r="1.8"/><circle cx="253.6" cy="240.2" r="1.8"/><circle cx="255.2" cy="229.8" r="1.8"/><circle cx="256.8" cy="225.1" r="1.8"/><circle cx="258.4" cy="228.5" r="1.8"/><circle cx="260" cy="196.4" r="1.8"/><circle cx="261.6" cy="200.8" r="1.8"/><circle cx="263.2" cy="211.1" r="1.8"/><circle cx="264.8" cy="212.4" r="1.8"/><circle cx="266.5" cy="211.8" r="1.8"/><circle cx="268.1" cy="214.4" r="1.8"/><circle cx="269.7" cy="220.5" r="1.8"/><circle cx="271.3" cy="247.5" r="1.8"/><circle cx="272.9" cy="251.2" r="1.8"/><circle cx="274.5" cy="259.9" r="1.8"/><circle cx="276.1" cy="269.9" r="1.8"/><circle cx="277.7" cy="256.2" r="1.8"/><circle cx="279.3" cy="252.5" r="1.8"/><circle cx="280.9" cy="238.5" r="1.8"/><circle cx="282.5" cy="225.5" r="1.8"/><circle cx="284.1" cy="223.1" r="1.8"/><circle cx="285.8" cy="220.1" r="1.8"/><circle cx="287.4" cy="190.4" r="1.8"/><circle cx="289" cy="252.2" r="1.8"/><circle cx="290.6" cy="265.9" r="1.8"/><circle cx="292.2" cy="253.5" r="1.8"/><circle cx="293.8" cy="239.8" r="1.8"/><circle cx="295.4" cy="233.2" r="1.8"/><circle cx="297" cy="231.1" r="1.8"/><circle cx="298.6" cy="229.5" r="1.8"/><circle cx="300.2" cy="263.9" r="1.8"/><circle cx="301.8" cy="242.2" r="1.8"/><circle cx="303.4" cy="241.8" r="1.8"/><circle cx="305" cy="224.5" r="1.8"/><circle cx="306.7" cy="210.4" r="1.8"/><circle cx="308.3" cy="223.5" r="1.8"/><circle cx="309.9" cy="202.8" r="1.8"/><circle cx="311.5" cy="212.1" r="1.8"/><circle cx="313.1" cy="216.4" r="1.8"/><circle cx="314.7" cy="228.5" r="1.8"/><circle cx="316.3" cy="227.8" r="1.8"/><circle cx="317.9" cy="214.4" r="1.8"/><circle cx="319.5" cy="213.8" r="1.8"/><circle cx="321.1" cy="207.8" r="1.8"/><circle cx="322.7" cy="188.7" r="1.8"/><circle cx="324.3" cy="149" r="1.8"/><circle cx="326" cy="196.7" r="1.8"/><circle cx="327.6" cy="191.7" r="1.8"/><circle cx="329.2" cy="181.7" r="1.8"/><circle cx="330.8" cy="188.4" r="1.8"/><circle cx="332.4" cy="213.4" r="1.8"/><circle cx="334" cy="209.8" r="1.8"/><circle cx="335.6" cy="158" r="1.8"/><circle cx="337.2" cy="203.1" r="1.8"/><circle cx="338.8" cy="192.7" r="1.8"/><circle cx="340.4" cy="209.8" r="1.8"/><circle cx="342" cy="132.9" r="1.8"/><circle cx="343.6" cy="177" r="1.8"/><circle cx="345.2" cy="215.1" r="1.8"/><circle cx="346.9" cy="199.8" r="1.8"/><circle cx="348.5" cy="187.1" r="1.8"/><circle cx="350.1" cy="168.4" r="1.8"/><circle cx="351.7" cy="168.4" r="1.8"/><circle cx="353.3" cy="170.4" r="1.8"/><circle cx="354.9" cy="171.7" r="1.8"/><circle cx="356.5" cy="182.4" r="1.8"/><circle cx="358.1" cy="230.5" r="1.8"/><circle cx="359.7" cy="214.4" r="1.8"/><circle cx="361.3" cy="209.8" r="1.8"/><circle cx="362.9" cy="181.7" r="1.8"/><circle cx="364.5" cy="199.8" r="1.8"/><circle cx="366.2" cy="233.5" r="1.8"/><circle cx="367.8" cy="132.9" r="1.8"/><circle cx="369.4" cy="186.7" r="1.8"/><circle cx="371" cy="181.7" r="1.8"/><circle cx="372.6" cy="156.7" r="1.8"/><circle cx="374.2" cy="193.7" r="1.8"/><circle cx="375.8" cy="209.4" r="1.8"/><circle cx="377.4" cy="228.5" r="1.8"/><circle cx="379" cy="227.1" r="1.8"/><circle cx="380.6" cy="224.8" r="1.8"/><circle cx="382.2" cy="231.5" r="1.8"/><circle cx="383.8" cy="230.5" r="1.8"/><circle cx="385.4" cy="229.5" r="1.8"/><circle cx="387.1" cy="227.5" r="1.8"/><circle cx="388.7" cy="226.5" r="1.8"/><circle cx="390.3" cy="226.1" r="1.8"/><circle cx="391.9" cy="226.1" r="1.8"/><circle cx="393.5" cy="223.1" r="1.8"/><circle cx="395.1" cy="220.8" r="1.8"/><circle cx="396.7" cy="225.5" r="1.8"/><circle cx="398.3" cy="219.1" r="1.8"/><circle cx="399.9" cy="217.8" r="1.8"/><circle cx="401.5" cy="216.8" r="1.8"/><circle cx="403.1" cy="216.1" r="1.8"/><circle cx="404.7" cy="222.5" r="1.8"/><circle cx="406.4" cy="225.1" r="1.8"/><circle cx="408" cy="226.5" r="1.8"/><circle cx="409.6" cy="217.5" r="1.8"/><circle cx="411.2" cy="220.1" r="1.8"/><circle cx="412.8" cy="222.5" r="1.8"/><circle cx="414.4" cy="226.5" r="1.8"/><circle cx="416" cy="227.8" r="1.8"/><circle cx="417.6" cy="228.1" r="1.8"/><circle cx="419.2" cy="226.5" r="1.8"/><circle cx="420.8" cy="223.5" r="1.8"/><circle cx="422.4" cy="224.5" r="1.8"/><circle cx="424" cy="227.1" r="1.8"/><circle cx="425.6" cy="228.5" r="1.8"/><circle cx="427.3" cy="224.8" r="1.8"/><circle cx="428.9" cy="227.5" r="1.8"/><circle cx="430.5" cy="229.8" r="1.8"/><circle cx="432.1" cy="231.1" r="1.8"/><circle cx="433.7" cy="233.2" r="1.8"/><circle cx="435.3" cy="235.5" r="1.8"/><circle cx="436.9" cy="233.2" r="1.8"/><circle cx="438.5" cy="230.5" r="1.8"/><circle cx="440.1" cy="218.1" r="1.8"/><circle cx="441.7" cy="223.5" r="1.8"/><circle cx="443.3" cy="221.5" r="1.8"/><circle cx="444.9" cy="215.4" r="1.8"/><circle cx="446.6" cy="208.4" r="1.8"/><circle cx="448.2" cy="201.8" r="1.8"/><circle cx="449.8" cy="204.8" r="1.8"/><circle cx="451.4" cy="216.4" r="1.8"/><circle cx="453" cy="226.8" r="1.8"/><circle cx="454.6" cy="222.1" r="1.8"/><circle cx="456.2" cy="208.8" r="1.8"/><circle cx="457.8" cy="194.7" r="1.8"/><circle cx="459.4" cy="183.7" r="1.8"/><circle cx="461" cy="200.4" r="1.8"/><circle cx="462.6" cy="178.4" r="1.8"/><circle cx="464.2" cy="184.7" r="1.8"/><circle cx="465.8" cy="212.4" r="1.8"/><circle cx="467.5" cy="256.5" r="1.8"/><circle cx="469.1" cy="216.4" r="1.8"/><circle cx="470.7" cy="191.7" r="1.8"/><circle cx="472.3" cy="182.4" r="1.8"/><circle cx="473.9" cy="229.8" r="1.8"/><circle cx="475.5" cy="256.5" r="1.8"/><circle cx="477.1" cy="241.5" r="1.8"/><circle cx="478.7" cy="121.6" r="1.8"/><circle cx="480.3" cy="181.7" r="1.8"/><circle cx="481.9" cy="248.2" r="1.8"/><circle cx="483.5" cy="233.5" r="1.8"/><circle cx="485.1" cy="230.5" r="1.8"/><circle cx="486.8" cy="204.4" r="1.8"/><circle cx="488.4" cy="216.4" r="1.8"/><circle cx="490" cy="112.6" r="1.8"/><circle cx="491.6" cy="175" r="1.8"/><circle cx="493.2" cy="215.4" r="1.8"/><circle cx="494.8" cy="208.8" r="1.8"/><circle cx="496.4" cy="183.1" r="1.8"/><circle cx="498" cy="251.5" r="1.8"/><circle cx="499.6" cy="209.8" r="1.8"/><circle cx="501.2" cy="263.2" r="1.8"/><circle cx="502.8" cy="229.8" r="1.8"/><circle cx="504.4" cy="218.5" r="1.8"/><circle cx="506" cy="223.1" r="1.8"/><circle cx="507.7" cy="184.7" r="1.8"/><circle cx="509.3" cy="236.5" r="1.8"/><circle cx="510.9" cy="231.1" r="1.8"/><circle cx="512.5" cy="227.5" r="1.8"/><circle cx="514.1" cy="235.8" r="1.8"/><circle cx="515.7" cy="236.5" r="1.8"/><circle cx="517.3" cy="236.5" r="1.8"/><circle cx="518.9" cy="238.5" r="1.8"/><circle cx="520.5" cy="158" r="1.8"/><circle cx="522.1" cy="216.4" r="1.8"/><circle cx="523.7" cy="213.4" r="1.8"/><circle cx="525.3" cy="160" r="1.8"/><circle cx="527" cy="191.1" r="1.8"/><circle cx="528.6" cy="157.3" r="1.8"/><circle cx="530.2" cy="153" r="1.8"/><circle cx="531.8" cy="203.8" r="1.8"/><circle cx="533.4" cy="212.1" r="1.8"/><circle cx="535" cy="216.4" r="1.8"/></g>
<g fill="#1769dc"><path d="M55.8 231.4l2.3 4h-4.6z"/><path d="M57.4 231.4l2.3 4h-4.6z"/><path d="M59 230l2.3 4h-4.6z"/><path d="M60.6 232.2l2.3 4h-4.6z"/><path d="M62.2 234.2l2.3 4h-4.6z"/><path d="M63.8 234.6l2.3 4h-4.6z"/><path d="M65.5 236.3l2.3 4h-4.6z"/><path d="M67.1 235.6l2.3 4h-4.6z"/><path d="M68.7 235l2.3 4h-4.6z"/><path d="M70.3 232.1l2.3 4h-4.6z"/><path d="M71.9 229.2l2.3 4h-4.6z"/><path d="M73.5 231.9l2.3 4h-4.6z"/><path d="M75.1 234.2l2.3 4h-4.6z"/><path d="M76.7 233.6l2.3 4h-4.6z"/><path d="M78.3 235.5l2.3 4h-4.6z"/><path d="M79.9 235.6l2.3 4h-4.6z"/><path d="M81.5 233l2.3 4h-4.6z"/><path d="M83.1 231.7l2.3 4h-4.6z"/><path d="M84.8 232.5l2.3 4h-4.6z"/><path d="M86.4 233.9l2.3 4h-4.6z"/><path d="M88 232.3l2.3 4h-4.6z"/><path d="M89.6 233l2.3 4h-4.6z"/><path d="M91.2 231.6l2.3 4h-4.6z"/><path d="M92.8 233.8l2.3 4h-4.6z"/><path d="M94.4 234.4l2.3 4h-4.6z"/><path d="M96 234.8l2.3 4h-4.6z"/><path d="M97.6 233.7l2.3 4h-4.6z"/><path d="M99.2 233.6l2.3 4h-4.6z"/><path d="M100.8 235.3l2.3 4h-4.6z"/><path d="M102.4 235.2l2.3 4h-4.6z"/><path d="M104 236.4l2.3 4h-4.6z"/><path d="M105.7 237.9l2.3 4h-4.6z"/><path d="M107.3 238.2l2.3 4h-4.6z"/><path d="M108.9 239.6l2.3 4h-4.6z"/><path d="M110.5 238.6l2.3 4h-4.6z"/><path d="M112.1 238.6l2.3 4h-4.6z"/><path d="M113.7 237.6l2.3 4h-4.6z"/><path d="M115.3 239.8l2.3 4h-4.6z"/><path d="M116.9 238.4l2.3 4h-4.6z"/><path d="M118.5 235.5l2.3 4h-4.6z"/><path d="M120.1 236.8l2.3 4h-4.6z"/><path d="M121.7 238.1l2.3 4h-4.6z"/><path d="M123.3 236.7l2.3 4h-4.6z"/><path d="M125 237.2l2.3 4h-4.6z"/><path d="M126.6 239.2l2.3 4h-4.6z"/><path d="M128.2 239.2l2.3 4h-4.6z"/><path d="M129.8 240.3l2.3 4h-4.6z"/><path d="M131.4 243.3l2.3 4h-4.6z"/><path d="M133 246.3l2.3 4h-4.6z"/><path d="M134.6 245.3l2.3 4h-4.6z"/><path d="M136.2 242l2.3 4h-4.6z"/><path d="M137.8 231l2.3 4h-4.6z"/><path d="M139.4 222.3l2.3 4h-4.6z"/><path d="M141 227.3l2.3 4h-4.6z"/><path d="M142.6 216.8l2.3 4h-4.6z"/><path d="M144.2 221.6l2.3 4h-4.6z"/><path d="M145.9 230.2l2.3 4h-4.6z"/><path d="M147.5 230l2.3 4h-4.6z"/><path d="M149.1 241.3l2.3 4h-4.6z"/><path d="M150.7 235.3l2.3 4h-4.6z"/><path d="M152.3 230l2.3 4h-4.6z"/><path d="M153.9 227.6l2.3 4h-4.6z"/><path d="M155.5 224.3l2.3 4h-4.6z"/><path d="M157.1 230l2.3 4h-4.6z"/><path d="M158.7 234l2.3 4h-4.6z"/><path d="M160.3 245l2.3 4h-4.6z"/><path d="M161.9 234l2.3 4h-4.6z"/><path d="M163.5 226l2.3 4h-4.6z"/><path d="M165.2 224.6l2.3 4h-4.6z"/><path d="M166.8 222.6l2.3 4h-4.6z"/><path d="M168.4 220.3l2.3 4h-4.6z"/><path d="M170 220.6l2.3 4h-4.6z"/><path d="M171.6 221.3l2.3 4h-4.6z"/><path d="M173.2 238.7l2.3 4h-4.6z"/><path d="M174.8 229l2.3 4h-4.6z"/><path d="M176.4 234.9l2.3 4h-4.6z"/><path d="M178 233.8l2.3 4h-4.6z"/><path d="M179.6 231.9l2.3 4h-4.6z"/><path d="M181.2 233.7l2.3 4h-4.6z"/><path d="M182.8 236.8l2.3 4h-4.6z"/><path d="M184.4 240.8l2.3 4h-4.6z"/><path d="M186.1 234.3l2.3 4h-4.6z"/><path d="M187.7 237.2l2.3 4h-4.6z"/><path d="M189.3 235.5l2.3 4h-4.6z"/><path d="M190.9 238.9l2.3 4h-4.6z"/><path d="M192.5 237.7l2.3 4h-4.6z"/><path d="M194.1 236.8l2.3 4h-4.6z"/><path d="M195.7 235.7l2.3 4h-4.6z"/><path d="M197.3 239.8l2.3 4h-4.6z"/><path d="M198.9 238.2l2.3 4h-4.6z"/><path d="M200.5 235.4l2.3 4h-4.6z"/><path d="M202.1 235.7l2.3 4h-4.6z"/><path d="M203.7 237.3l2.3 4h-4.6z"/><path d="M205.4 234.1l2.3 4h-4.6z"/><path d="M207 236.9l2.3 4h-4.6z"/><path d="M208.6 237l2.3 4h-4.6z"/><path d="M210.2 240.6l2.3 4h-4.6z"/><path d="M211.8 238.7l2.3 4h-4.6z"/><path d="M213.4 238.7l2.3 4h-4.6z"/><path d="M215 243.5l2.3 4h-4.6z"/><path d="M216.6 245.1l2.3 4h-4.6z"/><path d="M218.2 245.8l2.3 4h-4.6z"/><path d="M219.8 242.5l2.3 4h-4.6z"/><path d="M221.4 240.4l2.3 4h-4.6z"/><path d="M223 241l2.3 4h-4.6z"/><path d="M224.6 244.4l2.3 4h-4.6z"/><path d="M226.3 246.1l2.3 4h-4.6z"/><path d="M227.9 242.4l2.3 4h-4.6z"/><path d="M229.5 239.9l2.3 4h-4.6z"/><path d="M231.1 241.7l2.3 4h-4.6z"/><path d="M232.7 242.1l2.3 4h-4.6z"/><path d="M234.3 242.5l2.3 4h-4.6z"/><path d="M235.9 242.9l2.3 4h-4.6z"/><path d="M237.5 241.2l2.3 4h-4.6z"/><path d="M239.1 242.6l2.3 4h-4.6z"/><path d="M240.7 246.6l2.3 4h-4.6z"/><path d="M242.3 242.3l2.3 4h-4.6z"/><path d="M243.9 242.1l2.3 4h-4.6z"/><path d="M245.6 242.4l2.3 4h-4.6z"/><path d="M247.2 243.4l2.3 4h-4.6z"/><path d="M248.8 245.7l2.3 4h-4.6z"/><path d="M250.4 246.7l2.3 4h-4.6z"/><path d="M252 245.3l2.3 4h-4.6z"/><path d="M253.6 244l2.3 4h-4.6z"/><path d="M255.2 242l2.3 4h-4.6z"/><path d="M256.8 240.7l2.3 4h-4.6z"/><path d="M258.4 233l2.3 4h-4.6z"/><path d="M260 227l2.3 4h-4.6z"/><path d="M261.6 210.3l2.3 4h-4.6z"/><path d="M263.2 218l2.3 4h-4.6z"/><path d="M264.8 219.6l2.3 4h-4.6z"/><path d="M266.5 224.6l2.3 4h-4.6z"/><path d="M268.1 229l2.3 4h-4.6z"/><path d="M269.7 233l2.3 4h-4.6z"/><path d="M271.3 240l2.3 4h-4.6z"/><path d="M272.9 234.7l2.3 4h-4.6z"/><path d="M274.5 229l2.3 4h-4.6z"/><path d="M276.1 234l2.3 4h-4.6z"/><path d="M277.7 236l2.3 4h-4.6z"/><path d="M279.3 245l2.3 4h-4.6z"/><path d="M280.9 241l2.3 4h-4.6z"/><path d="M282.5 239.3l2.3 4h-4.6z"/><path d="M284.1 237.3l2.3 4h-4.6z"/><path d="M285.8 233l2.3 4h-4.6z"/><path d="M287.4 236l2.3 4h-4.6z"/><path d="M289 237.3l2.3 4h-4.6z"/><path d="M290.6 236l2.3 4h-4.6z"/><path d="M292.2 228l2.3 4h-4.6z"/><path d="M293.8 232l2.3 4h-4.6z"/><path d="M295.4 234l2.3 4h-4.6z"/><path d="M297 235l2.3 4h-4.6z"/><path d="M298.6 211.6l2.3 4h-4.6z"/><path d="M300.2 230l2.3 4h-4.6z"/><path d="M301.8 229.3l2.3 4h-4.6z"/><path d="M303.4 228.6l2.3 4h-4.6z"/><path d="M305 227l2.3 4h-4.6z"/><path d="M306.7 224l2.3 4h-4.6z"/><path d="M308.3 236l2.3 4h-4.6z"/><path d="M309.9 224l2.3 4h-4.6z"/><path d="M311.5 213.9l2.3 4h-4.6z"/><path d="M313.1 210.6l2.3 4h-4.6z"/><path d="M314.7 206.9l2.3 4h-4.6z"/><path d="M316.3 211.6l2.3 4h-4.6z"/><path d="M317.9 216.6l2.3 4h-4.6z"/><path d="M319.5 204.6l2.3 4h-4.6z"/><path d="M321.1 199.9l2.3 4h-4.6z"/><path d="M322.7 205.9l2.3 4h-4.6z"/><path d="M324.3 228l2.3 4h-4.6z"/><path d="M326 219l2.3 4h-4.6z"/><path d="M327.6 228l2.3 4h-4.6z"/><path d="M329.2 215l2.3 4h-4.6z"/><path d="M330.8 220.6l2.3 4h-4.6z"/><path d="M332.4 232l2.3 4h-4.6z"/><path d="M334 198.3l2.3 4h-4.6z"/><path d="M335.6 207.3l2.3 4h-4.6z"/><path d="M337.2 193.2l2.3 4h-4.6z"/><path d="M338.8 207.3l2.3 4h-4.6z"/><path d="M340.4 216l2.3 4h-4.6z"/><path d="M342 224l2.3 4h-4.6z"/><path d="M343.6 231l2.3 4h-4.6z"/><path d="M345.2 216l2.3 4h-4.6z"/><path d="M346.9 220.6l2.3 4h-4.6z"/><path d="M348.5 224l2.3 4h-4.6z"/><path d="M350.1 222l2.3 4h-4.6z"/><path d="M351.7 217.3l2.3 4h-4.6z"/><path d="M353.3 211.9l2.3 4h-4.6z"/><path d="M354.9 214.6l2.3 4h-4.6z"/><path d="M356.5 223l2.3 4h-4.6z"/><path d="M358.1 217l2.3 4h-4.6z"/><path d="M359.7 220.6l2.3 4h-4.6z"/><path d="M361.3 223l2.3 4h-4.6z"/><path d="M362.9 203.9l2.3 4h-4.6z"/><path d="M364.5 202.3l2.3 4h-4.6z"/><path d="M366.2 210.6l2.3 4h-4.6z"/><path d="M367.8 189.2l2.3 4h-4.6z"/><path d="M369.4 211.6l2.3 4h-4.6z"/><path d="M371 234l2.3 4h-4.6z"/><path d="M372.6 232.7l2.3 4h-4.6z"/><path d="M374.2 231l2.3 4h-4.6z"/><path d="M375.8 230l2.3 4h-4.6z"/><path d="M377.4 230.8l2.3 4h-4.6z"/><path d="M379 229.6l2.3 4h-4.6z"/><path d="M380.6 229.2l2.3 4h-4.6z"/><path d="M382.2 233.8l2.3 4h-4.6z"/><path d="M383.8 233.3l2.3 4h-4.6z"/><path d="M385.4 234.4l2.3 4h-4.6z"/><path d="M387.1 238.4l2.3 4h-4.6z"/><path d="M388.7 233.8l2.3 4h-4.6z"/><path d="M390.3 233.7l2.3 4h-4.6z"/><path d="M391.9 227.4l2.3 4h-4.6z"/><path d="M393.5 228.3l2.3 4h-4.6z"/><path d="M395.1 231.4l2.3 4h-4.6z"/><path d="M396.7 229.1l2.3 4h-4.6z"/><path d="M398.3 234.1l2.3 4h-4.6z"/><path d="M399.9 233.4l2.3 4h-4.6z"/><path d="M401.5 234.4l2.3 4h-4.6z"/><path d="M403.1 236.6l2.3 4h-4.6z"/><path d="M404.7 235.8l2.3 4h-4.6z"/><path d="M406.4 231.9l2.3 4h-4.6z"/><path d="M408 231.7l2.3 4h-4.6z"/><path d="M409.6 232.8l2.3 4h-4.6z"/><path d="M411.2 234.3l2.3 4h-4.6z"/><path d="M412.8 237.9l2.3 4h-4.6z"/><path d="M414.4 232.3l2.3 4h-4.6z"/><path d="M416 237l2.3 4h-4.6z"/><path d="M417.6 240.8l2.3 4h-4.6z"/><path d="M419.2 239.2l2.3 4h-4.6z"/><path d="M420.8 237.1l2.3 4h-4.6z"/><path d="M422.4 235l2.3 4h-4.6z"/><path d="M424 238.4l2.3 4h-4.6z"/><path d="M425.6 232.9l2.3 4h-4.6z"/><path d="M427.3 233.8l2.3 4h-4.6z"/><path d="M428.9 238.3l2.3 4h-4.6z"/><path d="M430.5 238.4l2.3 4h-4.6z"/><path d="M432.1 239.6l2.3 4h-4.6z"/><path d="M433.7 243.2l2.3 4h-4.6z"/><path d="M435.3 242.1l2.3 4h-4.6z"/><path d="M436.9 239.2l2.3 4h-4.6z"/><path d="M438.5 237.1l2.3 4h-4.6z"/><path d="M440.1 234l2.3 4h-4.6z"/><path d="M441.7 234.4l2.3 4h-4.6z"/><path d="M443.3 235.7l2.3 4h-4.6z"/><path d="M444.9 239.9l2.3 4h-4.6z"/><path d="M446.6 242.3l2.3 4h-4.6z"/><path d="M448.2 237.3l2.3 4h-4.6z"/><path d="M449.8 240.2l2.3 4h-4.6z"/><path d="M451.4 242.3l2.3 4h-4.6z"/><path d="M453 244l2.3 4h-4.6z"/><path d="M454.6 244.3l2.3 4h-4.6z"/><path d="M456.2 240.6l2.3 4h-4.6z"/><path d="M457.8 244l2.3 4h-4.6z"/><path d="M459.4 245.2l2.3 4h-4.6z"/><path d="M461 243.6l2.3 4h-4.6z"/><path d="M462.6 244.4l2.3 4h-4.6z"/><path d="M464.2 244.3l2.3 4h-4.6z"/><path d="M465.8 246l2.3 4h-4.6z"/><path d="M467.5 242.5l2.3 4h-4.6z"/><path d="M469.1 243.3l2.3 4h-4.6z"/><path d="M470.7 244.7l2.3 4h-4.6z"/><path d="M472.3 237.3l2.3 4h-4.6z"/><path d="M473.9 234l2.3 4h-4.6z"/><path d="M475.5 233l2.3 4h-4.6z"/><path d="M477.1 221.6l2.3 4h-4.6z"/><path d="M478.7 236l2.3 4h-4.6z"/><path d="M480.3 236.7l2.3 4h-4.6z"/><path d="M481.9 237l2.3 4h-4.6z"/><path d="M483.5 235.3l2.3 4h-4.6z"/><path d="M485.1 233.7l2.3 4h-4.6z"/><path d="M486.8 229l2.3 4h-4.6z"/><path d="M488.4 222l2.3 4h-4.6z"/><path d="M490 219l2.3 4h-4.6z"/><path d="M491.6 235l2.3 4h-4.6z"/><path d="M493.2 235.3l2.3 4h-4.6z"/><path d="M494.8 235.7l2.3 4h-4.6z"/><path d="M496.4 234l2.3 4h-4.6z"/><path d="M498 220l2.3 4h-4.6z"/><path d="M499.6 217l2.3 4h-4.6z"/><path d="M501.2 224l2.3 4h-4.6z"/><path d="M502.8 230.7l2.3 4h-4.6z"/><path d="M504.4 235l2.3 4h-4.6z"/><path d="M506 223l2.3 4h-4.6z"/><path d="M507.7 222l2.3 4h-4.6z"/><path d="M509.3 227.3l2.3 4h-4.6z"/><path d="M510.9 233l2.3 4h-4.6z"/><path d="M512.5 224l2.3 4h-4.6z"/><path d="M514.1 229l2.3 4h-4.6z"/><path d="M515.7 230.7l2.3 4h-4.6z"/><path d="M517.3 232l2.3 4h-4.6z"/><path d="M518.9 221l2.3 4h-4.6z"/><path d="M520.5 218.6l2.3 4h-4.6z"/><path d="M522.1 217l2.3 4h-4.6z"/><path d="M523.7 211.3l2.3 4h-4.6z"/><path d="M525.3 224l2.3 4h-4.6z"/><path d="M527 231l2.3 4h-4.6z"/><path d="M528.6 220.6l2.3 4h-4.6z"/><path d="M530.2 215l2.3 4h-4.6z"/><path d="M531.8 205.9l2.3 4h-4.6z"/><path d="M533.4 205.3l2.3 4h-4.6z"/><path d="M535 217.6l2.3 4h-4.6z"/></g>
<g stroke="#111" stroke-width="1.45" fill="none">
<path d="M54.1 15.5v255.7"/><path d="M53.4 270.5h483.9"/>
<path d="M46.5 250.2h7.5"/>
<path d="M46.5 216.8h7.5"/>
<path d="M46.5 183.4h7.5"/>
<path d="M46.5 150h7.5"/>
<path d="M46.5 116.6h7.5"/>
<path d="M46.5 83.2h7.5"/>
<path d="M46.5 49.8h7.5"/>
<path d="M46.5 16.4h7.5"/>
<path d="M50.3 266.9h3.7"/>
<path d="M50.3 233.5h3.7"/>
<path d="M50.3 200.1h3.7"/>
<path d="M50.3 166.7h3.7"/>
<path d="M50.3 133.2h3.7"/>
<path d="M50.3 99.9h3.7"/>
<path d="M50.3 66.5h3.7"/>
<path d="M50.3 33.1h3.7"/>
<path d="M54.2 270.5v7.5"/>
<path d="M134.6 270.5v7.5"/>
<path d="M215 270.5v7.5"/>
<path d="M295.4 270.5v7.5"/>
<path d="M375.8 270.5v7.5"/>
<path d="M456.2 270.5v7.5"/>
<path d="M536.6 270.5v7.5"/>
<path d="M94.4 270.5v3.9"/>
<path d="M174.8 270.5v3.9"/>
<path d="M255.2 270.5v3.9"/>
<path d="M335.6 270.5v3.9"/>
<path d="M416 270.5v3.9"/>
<path d="M496.4 270.5v3.9"/>
</g>
<text class="s" font-size="16" text-anchor="end" x="41.3" y="256.1">0</text>
<text class="s" font-size="16" text-anchor="end" x="41.3" y="222.8">5</text>
<text class="s" font-size="16" text-anchor="end" x="41.3" y="189.4">10</text>
<text class="s" font-size="16" text-anchor="end" x="41.3" y="156">15</text>
<text class="s" font-size="16" text-anchor="end" x="41.3" y="122.6">20</text>
<text class="s" font-size="16" text-anchor="end" x="41.3" y="89.2">25</text>
<text class="s" font-size="16" text-anchor="end" x="41.3" y="55.8">30</text>
<text class="s" font-size="16" text-anchor="end" x="41.3" y="22.4">35</text>
<text class="s" font-size="16" text-anchor="middle" x="54.2" y="297.4">0</text>
<text class="s" font-size="16" text-anchor="middle" x="134.6" y="297.4">50</text>
<text class="s" font-size="16" text-anchor="middle" x="215" y="297.4">100</text>
<text class="s" font-size="16" text-anchor="middle" x="295.4" y="297.4">150</text>
<text class="s" font-size="16" text-anchor="middle" x="375.8" y="297.4">200</text>
<text class="s" font-size="16" text-anchor="middle" x="456.2" y="297.4">250</text>
<text class="s" font-size="16" text-anchor="middle" x="536.6" y="297.4">300</text>
<text class="s" font-size="17.5" text-anchor="middle" x="295.6" y="322.7">Time Steps (10 mins)</text>
<text class="s" font-size="17.5" text-anchor="middle" transform="translate(15.8 143) rotate(-90)">Deflection (dm)</text>
<text class="s" font-size="13.7" style="fill:#1d2f7a;stroke:#1d2f7a;stroke-width:0.3" transform="translate(134.6 86.5) scale(0.965 1)">Drift</text>
<text class="s" font-size="13.7" style="fill:#1d2f7a;stroke:#1d2f7a;stroke-width:0.3" transform="translate(210.5 86.5) scale(0.965 1)">Normal</text>
<text class="s" font-size="13.7" style="fill:#1d2f7a;stroke:#1d2f7a;stroke-width:0.3" transform="translate(306.7 86.5) scale(0.965 1)">Drift</text>
<text class="s" font-size="13.7" style="fill:#1d2f7a;stroke:#1d2f7a;stroke-width:0.3" transform="translate(402.6 86.5) scale(0.965 1)">Normal</text>
<text class="s" font-size="13.7" style="fill:#1d2f7a;stroke:#1d2f7a;stroke-width:0.3" transform="translate(494.9 88.6) scale(0.965 1)">Drift</text>
<rect x="190.4" y="2.2" width="187.3" height="45.2" fill="#fff" stroke="#686868" stroke-width="1"/>
<line x1="192.5" y1="10.3" x2="217.8" y2="10.3" stroke="#6e6e6e" stroke-width="0.9"/>
<rect x="203.6" y="8.8" width="3" height="3" fill="#3a3a3a"/>
<text class="m" font-size="13.4" transform="translate(224.6 15.1) scale(0.815 1)">Measurement from Sensor</text>
<line x1="192.5" y1="25.1" x2="217.8" y2="25.1" stroke="#f47c7c" stroke-width="0.9"/>
<circle cx="205.1" cy="25.1" r="1.8" fill="#ee1f27"/>
<text class="m" font-size="13.4" transform="translate(224.6 29.8) scale(0.815 1)">LSTM Prediction</text>
<line x1="192.5" y1="39.7" x2="217.8" y2="39.7" stroke="#4d94ea" stroke-width="0.9"/>
<path d="M205.1 37.2l2.3 4h-4.6z" fill="#1769dc"/>
<text class="m" font-size="13.4" transform="translate(224.6 44.4) scale(0.815 1)">LSTM-PF Prediction</text>
</svg></body></html>
